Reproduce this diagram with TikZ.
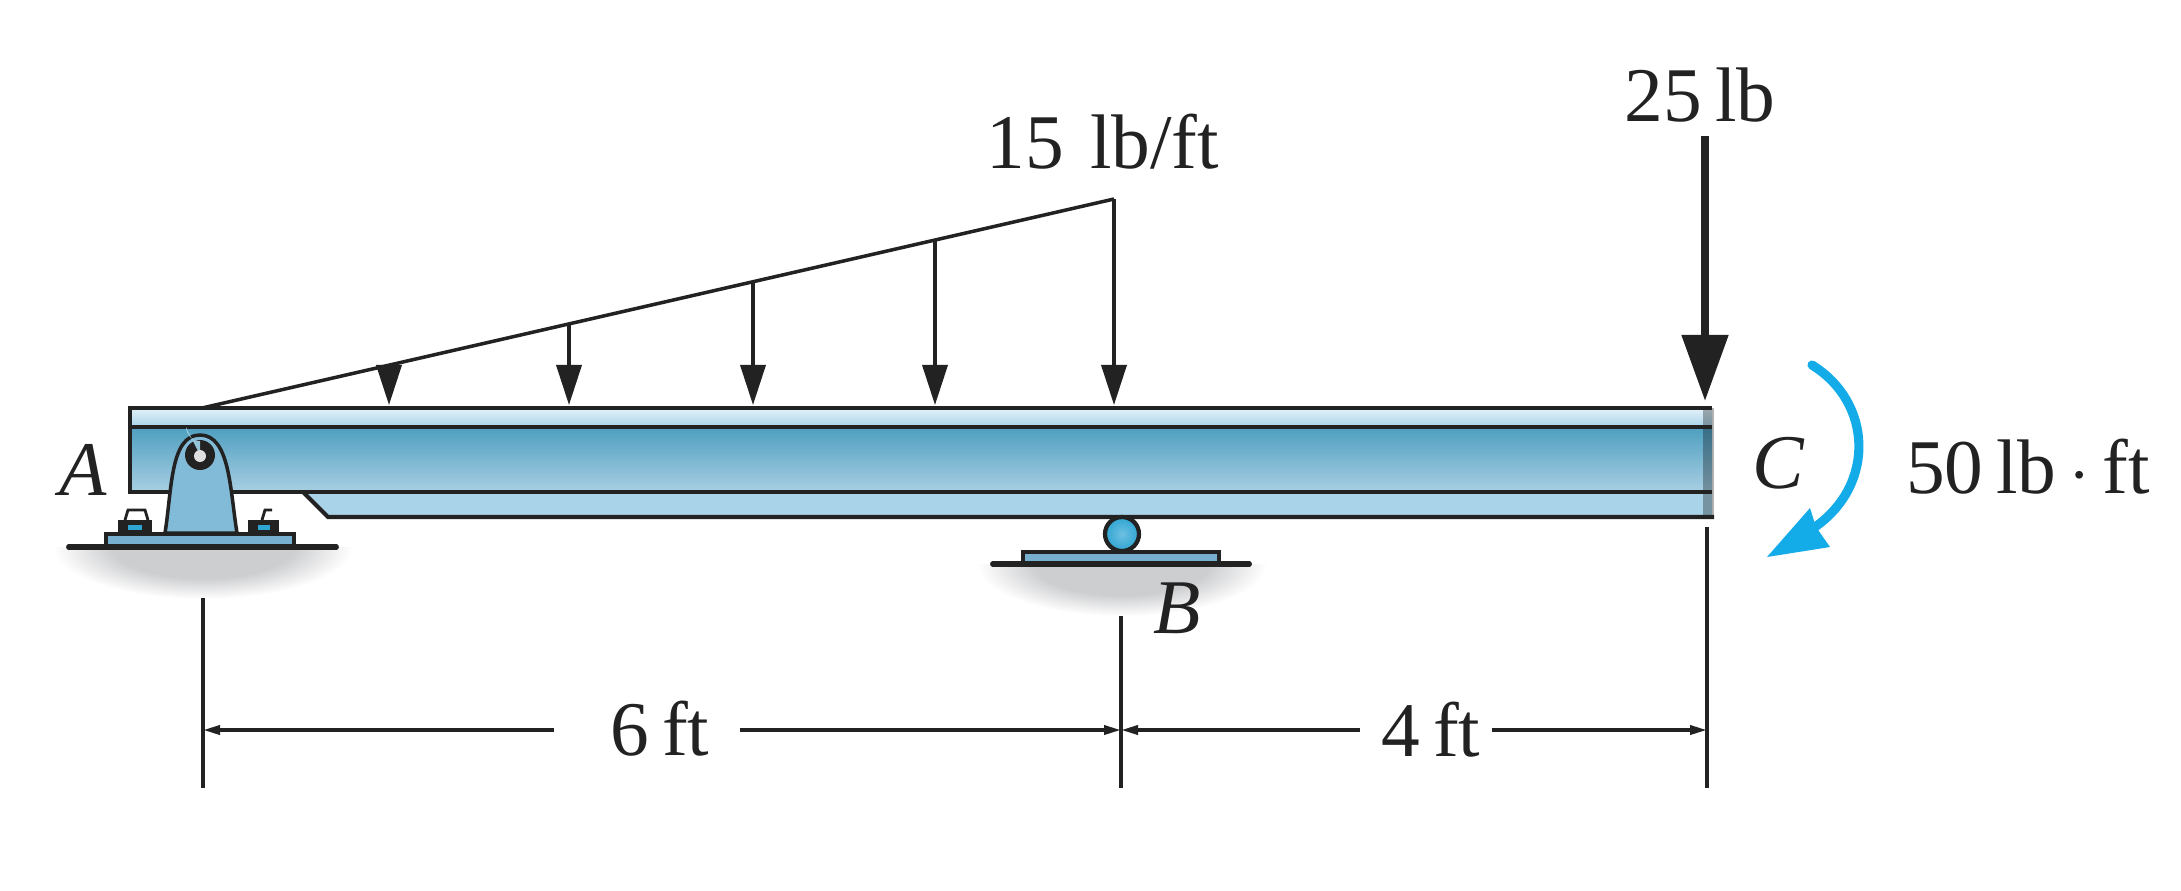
\documentclass[tikz,border=0pt]{standalone}
\usepackage{fontspec}
\setmainfont{Liberation Serif}
\usetikzlibrary{arrows.meta}
\definecolor{ink}{HTML}{222222}
\definecolor{webTop}{HTML}{4E9FC0}
\definecolor{webBot}{HTML}{A9CFE3}
\definecolor{flangeLow}{HTML}{A9D3E8}
\definecolor{flangeTop}{HTML}{E3F2FA}
\definecolor{bracket}{HTML}{82BBD8}
\definecolor{plate}{HTML}{76AFCF}
\definecolor{rollerBlue}{HTML}{2FA5D3}
\definecolor{momentBlue}{HTML}{14ACE8}
\definecolor{shadowGray}{HTML}{CDCED0}
\pgfdeclareradialshading{groundshadow}{\pgfpoint{0bp}{0bp}}{color(0bp)=(shadowGray); color(15bp)=(shadowGray); color(25bp)=(white); color(50bp)=(white)}
\tikzset{
  lbl/.style={font=\fontsize{22}{24}\selectfont, text=ink, inner sep=0pt},
  ilbl/.style={font=\fontsize{22}{24}\selectfont\itshape, text=ink, inner sep=0pt},
  outline/.style={draw=ink, line width=1.2pt},
  load/.style={draw=ink, line width=1pt, -{Triangle[length=0.4cm,width=0.25cm]}},
  bigload/.style={draw=ink, line width=2.3pt, -{Triangle[length=0.66cm,width=0.45cm]}},
  dim/.style={draw=ink, line width=1pt},
  dimtip/.style={dim, -{Triangle[length=0.17cm,width=0.09cm]}},
  moment/.style={draw=momentBlue, line width=2.6pt},
}
\begin{document}
\begin{tikzpicture}[x=0.01cm,y=-0.01cm]
\useasboundingbox (0,0) rectangle (2181,890);
\fill[white] (0,0) rectangle (2181,890);
% ground shadows
\begin{scope}
\clip (50,547) rectangle (355,610);
\shade[shading=groundshadow] (203,547) ellipse (150 and 52);
\end{scope}
\begin{scope}
\clip (970,564) rectangle (1275,625);
\shade[shading=groundshadow] (1122,564) ellipse (145 and 52);
\end{scope}
% beam
\shade[top color=webTop,bottom color=webBot] (130,427) rectangle (1712,492);
\shade[top color=flangeTop,bottom color=flangeLow] (130,408) rectangle (1712,427);
\fill[flangeLow] (303,492) -- (328,517) -- (1712,517) -- (1712,492) -- cycle;
\fill[black,opacity=0.3] (1703,408) rectangle (1714,517);
\draw[outline] (1712,408) -- (130,408) -- (130,492) -- (303,492);
\draw[outline] (130,427) -- (1712,427);
\draw[outline] (303,492) -- (1712,492);
\draw[outline] (303,492) -- (328,517) -- (1714,517);
% support A
\draw[ink,line width=1.1pt,fill=flangeTop] (122,522) rectangle (148,533);
\draw[ink,line width=1.1pt,fill=flangeTop] (252,522) rectangle (275,533);
\fill[ink] (118,520) rectangle (152,533);
\fill[ink] (248,520) rectangle (279,533);
\fill[rollerBlue] (128,525) rectangle (142,530);
\fill[rollerBlue] (258,525) rectangle (270,530);
\draw[ink,line width=0.8pt] (125,520) -- (128,510) -- (145,510) -- (148,520);
\draw[ink,line width=0.8pt] (262,520) -- (265,510) -- (272,510);
\draw[outline,fill=bracket,line width=1pt] (165,533) .. controls (172,490) and (170,435) .. (200,435) .. controls (230,435) and (230,490) .. (237,533) -- cycle;
\fill[ink] (200,455) circle (15);
\fill[webTop!60!white] (200,441) arc (90:180:14) -- (200,455) -- cycle;
\fill[white!75!gray] (200,456) circle (6);
\draw[outline,fill=plate] (106,534) rectangle (294,546);
\node[inner sep=0pt,minimum size=0pt] (groundAl) at (68,547) {};
\node[inner sep=0pt,minimum size=0pt] (groundAr) at (337,547) {};
\draw[outline,line width=1.5pt,line cap=round] (groundAl) -- (groundAr);
% support B
\shade[inner color=rollerBlue!70!white,outer color=rollerBlue,draw=ink,line width=1.2pt] (1122,534) circle (17);
\draw[outline,fill=plate] (1023,552) rectangle (1219,563);
\node[inner sep=0pt,minimum size=0pt] (groundBl) at (992,564) {};
\node[inner sep=0pt,minimum size=0pt] (groundBr) at (1250,564) {};
\draw[outline,line width=1.5pt,line cap=round] (groundBl) -- (groundBr);
% distributed load
\coordinate (loadStart) at (202,408);
\coordinate (loadEnd) at (1114,199);
\draw[dim] (loadStart) -- (loadEnd);
\foreach \n/\x/\y in {a/389/365,b/569/324,c/753/282,d/935/240,e/1114/199}{
  \coordinate (top\n) at (\x,\y);
  \coordinate (bot\n) at (\x,405);
  \draw[load] (top\n) -- (bot\n);
}
% point load
\coordinate (pTop) at (1705,136);
\coordinate (pBot) at (1705,401);
\draw[bigload] (pTop) -- (pBot);
% moment
\coordinate (mStart) at (1812,365);
\coordinate (mEnd) at (1815,527);
\draw[moment,line cap=round] (mStart) .. controls (1872,402) and (1876,484) .. (mEnd);
\fill[momentBlue] (1767,557) -- (1810,508) -- (1816,527) -- (1830,547) -- cycle;
% dimension lines
\coordinate (dAt) at (203,598);
\coordinate (dAb) at (203,788);
\coordinate (dBt) at (1121,616);
\coordinate (dBb) at (1121,788);
\coordinate (dCt) at (1707,527);
\coordinate (dCb) at (1707,788);
\draw[dim,line width=1.2pt] (dAt) -- (dAb);
\draw[dim,line width=1.2pt] (dBt) -- (dBb);
\draw[dim,line width=1.2pt] (dCt) -- (dCb);
\coordinate (hA) at (203,730);
\coordinate (hB) at (1121,730);
\coordinate (hC) at (1707,730);
\node[lbl] (six) at (660,729) {6\,ft};
\node[lbl] (four) at (1431,730) {4\,ft};
\coordinate (sixL) at (554,730);
\coordinate (sixR) at (740,730);
\coordinate (fourL) at (1360,730);
\coordinate (fourR) at (1492,730);
\draw[dimtip] (sixL) -- (hA);
\draw[dimtip] (sixR) -- (hB);
\draw[dimtip] (fourL) -- (hB);
\draw[dimtip] (fourR) -- (hC);
% labels
\node[lbl] (w) at (1103,142) {15\,\,lb/ft};
\node[lbl] (p) at (1700,95) {25\,lb};
\node[lbl] (m) at (2028,467) {50\,lb\,$\cdot$\,ft};
\node[ilbl] (A) at (83,470) {A};
\node[ilbl] (B) at (1177,608) {B};
\node[ilbl] (C) at (1778,463) {C};
\end{tikzpicture}
\end{document}
